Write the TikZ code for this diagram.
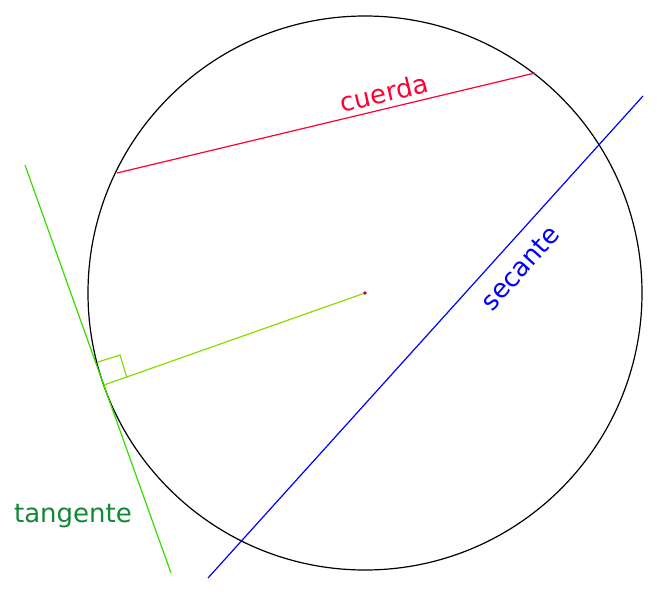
\documentclass[tikz,border=0pt]{standalone}
\usepackage{fontspec}
\setmainfont{DejaVu Sans}
\begin{document}
\begin{tikzpicture}[x=1pt,y=-1pt,
  lbl/.style={font=\fontsize{26}{30}\selectfont,inner sep=0pt},
  thin line/.style={line width=1.2pt}]
\useasboundingbox (0,0) rectangle (664,600);
\definecolor{cred}{HTML}{FF0033}
\definecolor{cblue}{HTML}{0000FF}
\definecolor{ctan}{HTML}{33DD00}
\definecolor{crad}{HTML}{88DD00}
\definecolor{ctlab}{HTML}{118833}
\coordinate (O) at (365,293);
\draw[thin line] (O) circle (277);
\coordinate (c1) at (117,173);
\coordinate (c2) at (535,73);
\draw[thin line,cred] (c1) -- (c2);
\coordinate (s1) at (208,578);
\coordinate (s2) at (643,96);
\draw[thin line,cblue] (s1) -- (s2);
\coordinate (t1) at (25,165);
\coordinate (t2) at (171,573);
\draw[thin line,ctan] (t1) -- (t2);
\coordinate (T) at (104,385);
\draw[thin line,crad] (O) -- (T);
\draw[thin line,crad] (98,362) -- (120,355) -- (127,378);
\fill[purple] (O) circle (1.8);
\node[lbl,text=cred,rotate=13.5] (lc) at (384,93) {cuerda};
\node[lbl,text=cblue,rotate=48] (ls) at (520,268) {secante};
\node[lbl,text=ctlab] (lt) at (73,516) {tangente};
\end{tikzpicture}
\end{document}
